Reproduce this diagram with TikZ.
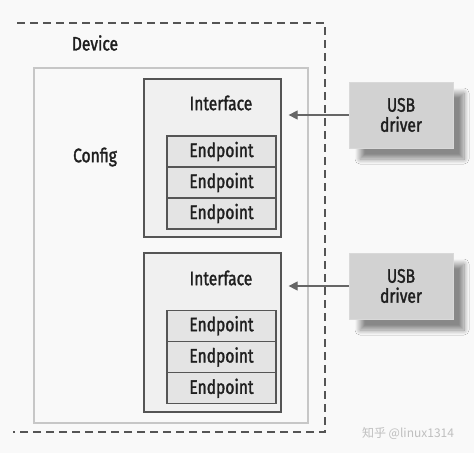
\documentclass[tikz,border=0pt]{standalone}
\usepackage{fontspec}
\setmainfont{Fira Sans}[FakeStretch=0.8, FakeBold=1.6]
\newfontfamily\cjk{Noto Sans CJK SC}
\usetikzlibrary{arrows.meta,shadows.blur}
\definecolor{bgcol}{HTML}{F9F9F9}
\definecolor{ifcol}{HTML}{F0F0F0}
\definecolor{epcol}{HTML}{E4E4E4}
\definecolor{usbcol}{HTML}{D2D2D2}
\definecolor{linecol}{HTML}{555555}
\tikzset{
  lbl/.style={font=\fontsize{19.5}{21}\selectfont, text=black!88, inner sep=0pt},
  cfgbox/.style={draw=black!22, line width=1.2pt, fill=bgcol, minimum width=274pt, minimum height=355pt, inner sep=0pt},
  ifbox/.style={draw=linecol, line width=1.3pt, fill=ifcol, minimum width=137pt, minimum height=158pt, inner sep=0pt},
  epbox/.style={draw=linecol, line width=1.2pt, fill=epcol, minimum width=109pt, minimum height=31pt, inner sep=0pt, lbl},
  usbbox/.style={fill=usbcol, draw=black!15, minimum width=104pt, minimum height=66pt, inner sep=0pt, align=center,
    font=\fontsize{19.5}{20}\selectfont, text=black!88,
    blur shadow={shadow xshift=11pt, shadow yshift=-11pt, shadow blur steps=10, shadow blur radius=5pt, shadow opacity=45}},
  feed/.style={draw=black!60, line width=1.3pt, -{Triangle[length=9pt,width=9pt]}, shorten >=7pt},
  devline/.style={draw=linecol, line width=1.3pt, dash pattern=on 8pt off 5pt}
}
\begin{document}
\begin{tikzpicture}[x=1pt,y=-1pt]
\fill[bgcol] (0,0) rectangle (474,453);
\useasboundingbox (0,0) rectangle (474,453);
% device (dashed, open at left)
\coordinate (dtl) at (17,23);
\coordinate (dtr) at (325,23);
\coordinate (dbr) at (325,432);
\coordinate (dbl) at (13,432);
\draw[devline] (dtl) -- (dtr) -- (dbr) -- (dbl);
\node[lbl] (device) at (95,43) {Device};
% config
\node[cfgbox] (cfg) at (171,245.5) {};
\node[lbl] (cfglbl) at (95,157) {Config};
% interface 1
\node[ifbox] (if1) at (212.5,158) {};
\node[lbl] (if1lbl) at (221,103) {Interface};
\node[epbox] (e11) at (221.5,151.5) {Endpoint};
\node[epbox] (e12) at (221.5,182.5) {Endpoint};
\node[epbox] (e13) at (221.5,213.5) {Endpoint};
% interface 2
\node[ifbox, minimum height=159pt] (if2) at (212.5,332.5) {};
\node[lbl] (if2lbl) at (221,278) {Interface};
\node[epbox] (e21) at (221.5,325.7) {Endpoint};
\node[epbox] (e22) at (221.5,357) {Endpoint};
\node[epbox] (e23) at (221.5,388.3) {Endpoint};
% usb drivers
\node[usbbox] (usb1) at (401,115) {USB\\driver};
\node[usbbox] (usb2) at (401,286) {USB\\driver};
\draw[feed] (usb1.west) -- (usb1.west -| if1.east);
\draw[feed] (usb2.west) -- (usb2.west -| if2.east);
% watermark
\node[font=\cjk\fontsize{12}{14}\selectfont, text=black!25, inner sep=0pt] (wm) at (408,433) {知乎 @linux1314};
\end{tikzpicture}
\end{document}
